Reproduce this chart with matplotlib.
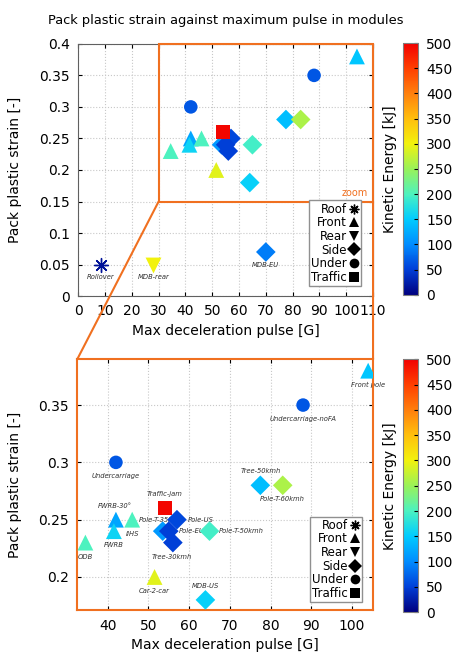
import numpy as np
import matplotlib
matplotlib.use('Agg')
import matplotlib.pyplot as plt
from matplotlib.patches import Rectangle, ConnectionPatch
from matplotlib.lines import Line2D
from matplotlib.colors import LinearSegmentedColormap

# crash test data: max pulse [G], pack plastic strain [-], impact type, kinetic energy [kJ]
names = ['Rollover', 'MDB-rear', 'MDB-EU', 'Front pole', 'Undercarriage-noFA', 'Undercarriage',
         'Tree-50kmh', 'Pole-T-60kmh', 'Traffic-jam', 'FWRB-30°', 'IIHS', 'Pole-US', 'FWRB',
         'Pole-T-35kmh', 'Pole-EU', 'Pole-T-50kmh', 'ODB', 'Tree-30kmh', 'Car-2-car', 'MDB-US']
pulse = [8.5, 28, 70, 104, 88, 42, 77.5, 83, 54, 42, 46, 57, 41.5, 53.5, 55, 65, 34.5, 56, 51.5, 64]
strain = [0.05, 0.05, 0.07, 0.38, 0.35, 0.30, 0.28, 0.28, 0.26, 0.25, 0.25, 0.25, 0.24,
          0.24, 0.24, 0.24, 0.23, 0.23, 0.20, 0.18]
kind = ['Roof', 'Rear', 'Side', 'Front', 'Under', 'Under', 'Side', 'Side', 'Traffic', 'Front',
        'Front', 'Side', 'Front', 'Side', 'Side', 'Side', 'Front', 'Side', 'Front', 'Side']
energy = [15, 300, 90, 145, 65, 65, 140, 260, 495, 120, 200, 55, 160, 110, 50, 195, 200, 50, 290, 155]

kinds = ['Roof', 'Front', 'Rear', 'Side', 'Under', 'Traffic']
markers = {'Roof': (8, 2, 0), 'Front': '^', 'Rear': 'v', 'Side': 'D', 'Under': 'o', 'Traffic': 's'}
sizes = {'Roof': 100, 'Front': 130, 'Rear': 130, 'Side': 100, 'Under': 95, 'Traffic': 90}

# label placement in the zoomed plot: (dx, dy, ha, va) in points
label_pos = {
    'Front pole': (0, -8, 'center', 'top'),
    'Undercarriage-noFA': (0, -8, 'center', 'top'),
    'Undercarriage': (0, -8, 'center', 'top'),
    'Tree-50kmh': (0, 8, 'center', 'bottom'),
    'Pole-T-60kmh': (0, -8, 'center', 'top'),
    'Traffic-jam': (0, 8, 'center', 'bottom'),
    'FWRB-30°': (-1, 8, 'center', 'bottom'),
    'IIHS': (0, -8, 'center', 'top'),
    'Pole-US': (8, 0, 'left', 'center'),
    'FWRB': (0, -8, 'center', 'top'),
    'Pole-T-35kmh': (-17, 8, 'left', 'center'),
    'Pole-EU': (7, 0, 'left', 'center'),
    'Pole-T-50kmh': (7, 0, 'left', 'center'),
    'ODB': (0, -8, 'center', 'top'),
    'Tree-30kmh': (-1, -8, 'center', 'top'),
    'Car-2-car': (0, -8, 'center', 'top'),
    'MDB-US': (0, 8, 'center', 'bottom'),
}
top_labels = ['Rollover', 'MDB-rear', 'MDB-EU']

orange = '#f07020'
cmap = LinearSegmentedColormap.from_list('kin', [
    (0.0, (0.0, 0.0, 0.5)), (0.1, (0.0, 0.25, 0.85)), (0.2, (0.0, 0.55, 1.0)),
    (0.3, (0.0, 0.8, 1.0)), (0.4, (0.3, 0.95, 0.75)), (0.5, (0.6, 0.95, 0.35)),
    (0.6, (0.95, 0.95, 0.05)), (0.7, (1.0, 0.75, 0.05)), (0.8, (1.0, 0.5, 0.05)),
    (0.9, (1.0, 0.25, 0.0)), (1.0, (0.95, 0.0, 0.0))])
norm = plt.Normalize(0, 500)

fig = plt.figure(figsize=(4.74, 6.64), dpi=100)
ax1 = fig.add_axes([0.165, 0.554, 0.622, 0.380])
ax2 = fig.add_axes([0.163, 0.081, 0.624, 0.378])
cax1 = fig.add_axes([0.850, 0.556, 0.032, 0.379])
cax2 = fig.add_axes([0.850, 0.078, 0.032, 0.381])


def draw(ax):
    sc = None
    for k in kinds:
        idx = [i for i in range(len(names)) if kind[i] == k]
        if not idx:
            continue
        xs = [pulse[i] for i in idx]
        ys = [strain[i] for i in idx]
        cs = [energy[i] for i in idx]
        if k == 'Roof':
            sc = ax.scatter(xs, ys, c=cs, cmap=cmap, norm=norm, marker=markers[k],
                            s=sizes[k], linewidths=1.0, zorder=3)
            sc.set_edgecolors(cmap(norm(np.array(cs))))
        else:
            sc = ax.scatter(xs, ys, c=cs, cmap=cmap, norm=norm, marker=markers[k],
                            s=sizes[k], linewidths=0, zorder=3)
    ax.grid(True, color='#c8c8c8', linestyle=':', linewidth=0.8)
    ax.set_axisbelow(True)
    ax.tick_params(labelsize=10, length=3, pad=6, direction='in', top=True, right=True)
    ax.set_xlabel('Max deceleration pulse [G]', fontsize=10)
    ax.set_ylabel('Pack plastic strain [-]', fontsize=10, labelpad=12)
    handles = [Line2D([], [], color='black', marker=markers[k], linestyle='none',
                      markersize=7, markeredgewidth=1.0 if k == 'Roof' else 0)
               for k in kinds]
    return sc, handles


def fmt(v, _):
    s = ('%.2f' % v).rstrip('0').rstrip('.')
    return s


sc1, handles = draw(ax1)
ax1.set_xlim(0, 110)
ax1.set_ylim(0, 0.4)
ax1.set_xticks(np.arange(0, 111, 10))
ax1.set_yticks(np.arange(0, 0.401, 0.05))
ax1.yaxis.set_major_formatter(plt.FuncFormatter(fmt))
for sp in ax1.spines.values():
    sp.set_color('#606060')
ax1.set_title('Pack plastic strain against maximum pulse in modules', fontsize=9.4, pad=14, x=0.5)
for n in top_labels:
    i = names.index(n)
    ax1.annotate(n, (pulse[i], strain[i]), xytext=(0, -7), textcoords='offset points',
                 ha='center', va='top', fontsize=4.9, style='italic', color='#303030', zorder=2)
ax1.legend(handles, kinds, loc='lower right', bbox_to_anchor=(0.96, 0.04), borderaxespad=0,
           markerfirst=False, fontsize=8.5, handletextpad=0.2, labelspacing=0.05,
           handlelength=0.8, borderpad=0.2, fancybox=False, edgecolor='#909090', framealpha=1)

ax1.add_patch(Rectangle((30, 0.15), 80, 0.25, fill=False, edgecolor=orange, linewidth=1.5,
                        clip_on=False, zorder=4))
ax1.text(108, 0.155, 'zoom', color=orange, fontsize=7, ha='right', va='bottom')

sc2, _ = draw(ax2)
ax2.set_xlim(32.5, 105.2)
ax2.set_ylim(0.171, 0.39)
ax2.set_xticks(np.arange(40, 101, 10))
ax2.set_yticks([0.2, 0.25, 0.3, 0.35])
ax2.yaxis.set_major_formatter(plt.FuncFormatter(fmt))
for sp in ax2.spines.values():
    sp.set_color(orange)
    sp.set_linewidth(1.5)
for n, (dx, dy, ha, va) in label_pos.items():
    i = names.index(n)
    ax2.annotate(n, (pulse[i], strain[i]), xytext=(dx, dy), textcoords='offset points',
                 ha=ha, va=va, fontsize=4.9, style='italic', color='#303030', zorder=2,
                 annotation_clip=False)
ax2.legend(handles, kinds, loc='lower right', bbox_to_anchor=(0.963, 0.032), borderaxespad=0,
           markerfirst=False, fontsize=8.5, handletextpad=0.2, labelspacing=0.05,
           handlelength=0.8, borderpad=0.2, fancybox=False, edgecolor='#909090', framealpha=1)

for xy1, xy2 in [((30, 0.15), (0, 1)), ((110, 0.15), (1, 1))]:
    con = ConnectionPatch(xyA=xy1, coordsA=ax1.transData, xyB=xy2, coordsB=ax2.transAxes,
                          color=orange, linewidth=1.5)
    fig.add_artist(con)

for cax, sc in [(cax1, sc1), (cax2, sc2)]:
    cb = fig.colorbar(plt.cm.ScalarMappable(norm=norm, cmap=cmap), cax=cax)
    cb.set_ticks(np.arange(0, 501, 50))
    cb.ax.tick_params(labelsize=10, length=3, pad=6, direction='in')
    cb.outline.set_edgecolor('#808080')
    cb.set_label('Kinetic Energy [kJ]', fontsize=10)
    cb.ax.yaxis.set_label_position('left')

fig.savefig('out.png', dpi=100)
